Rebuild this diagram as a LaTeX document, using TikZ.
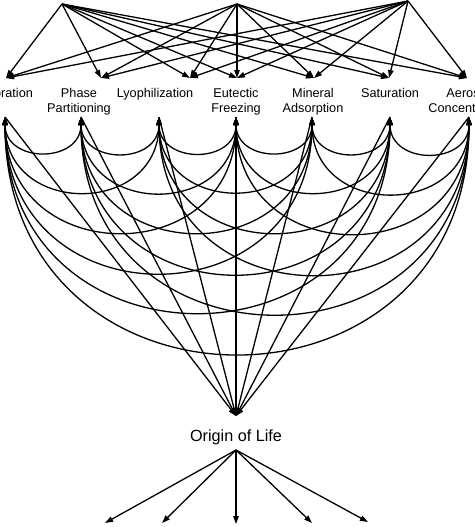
\documentclass[tikz,border=0pt]{standalone}
\usepackage{fontspec}
\setmainfont{Liberation Sans}
\usetikzlibrary{arrows.meta}
\begin{document}
\begin{tikzpicture}[x=1pt,y=1pt,
  edge/.style={line width=1.3pt,-{Triangle[length=8pt,width=5.5pt]}},
  arcedge/.style={line width=1.3pt,{Triangle[length=8pt,width=5.5pt]}-{Triangle[length=8pt,width=5.5pt]}},
  lbl/.style={font=\fontsize{12.7}{15}\selectfont,align=center,inner sep=0pt,anchor=north}]
\useasboundingbox (0,0) rectangle (474,-527);
\clip (0,0) rectangle (474,-527);
% labels
\node[lbl] (evap) at (-1,-88) {Evaporation};
\node[lbl] (phase) at (79,-88) {Phase\\Partitioning};
\node[lbl] (lyo) at (155,-88) {Lyophilization};
\node[lbl] (eut) at (236,-88) {Eutectic\\Freezing};
\node[lbl] (min) at (313,-88) {Mineral\\Adsorption};
\node[lbl] (sat) at (390,-88) {Saturation};
\node[lbl] (aer) at (468,-88) {Aerosol\\Concentration};
\node[font=\fontsize{16.2}{18}\selectfont,inner sep=0pt,anchor=base] (origin) at (236,-441) {Origin of Life};
% sources (labels outside view)
\coordinate (s1) at (62,-4);
\coordinate (s2) at (237,-4);
\coordinate (s3) at (408,-1);
% top targets
\foreach \n/\x in {1/6,2/101,3/190,4/237,5/314,6/389,7/467}
  \coordinate (t\n) at (\x,-78);
% bottom points of the nodes
\foreach \n/\x in {1/5,2/81,3/159,4/236,5/312,6/390,7/469}
  \coordinate (b\n) at (\x,-117);
\coordinate (o1) at (236,-416);
\coordinate (o2) at (236,-450);
\foreach \n/\x/\y in {1/105/523,2/162/523,3/236/524,4/312/523,5/368/522}
  \coordinate (d\n) at (\x,-\y);
% edges from sources
\foreach \s in {1,2,3}
  \foreach \t in {1,...,7}
    \draw[edge] (s\s) -- (t\t);
% arcs between nodes
\foreach \i in {1,...,6}{
  \pgfmathtruncatemacro\ii{\i+1}
  \foreach \j in {\ii,...,7}{
    \pgfmathsetmacro\L{{1.58,1.66,1.70,1.73,1.73,1.74}[\j-\i-1]}
    \draw[arcedge] (b\i) to[out=-90,in=-90,looseness=\L] (b\j);
  }
}
% straight edges to Origin of Life
\foreach \i in {1,...,7}
  \draw[edge] (b\i) -- (o1);
% edges from Origin of Life
\foreach \d in {1,...,5}
  \draw[edge] (o2) -- (d\d);
\end{tikzpicture}
\end{document}
